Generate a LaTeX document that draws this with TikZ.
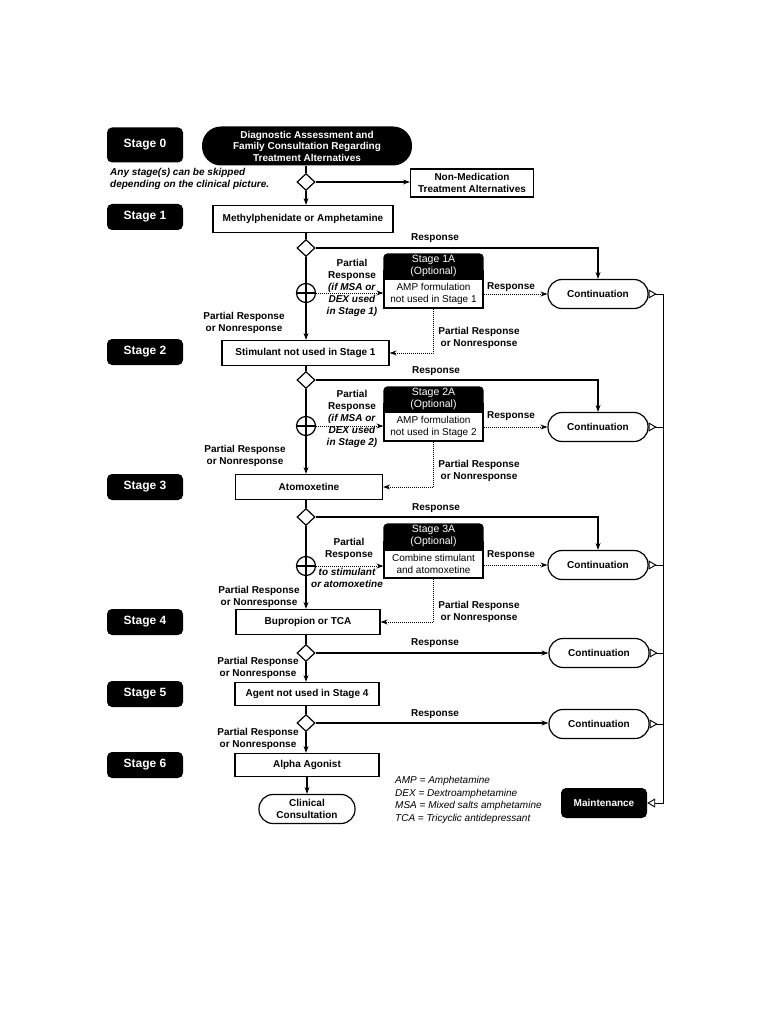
\documentclass[tikz,border=0pt]{standalone}
\usepackage{fontspec}
\setmainfont{Liberation Sans}
\usetikzlibrary{arrows.meta,shapes.geometric,calc}
\begin{document}
\begin{tikzpicture}[x=1pt,y=-1pt,
  every node/.style={font=\fontsize{10}{12}\selectfont\bfseries, inner sep=0pt, align=center},
  stagebox/.style={fill=black, text=white, rounded corners=5pt, minimum width=76pt, minimum height=26pt, font=\fontsize{12}{14}\selectfont\bfseries},
  procbox/.style={draw, line width=1.2pt, fill=white, minimum height=25pt},
  termbox/.style={draw, line width=1.2pt, fill=white, rounded corners=14pt, minimum width=100pt, minimum height=29pt},
  optbody/.style={draw, line width=1.2pt, fill=white, minimum width=99pt, minimum height=29pt, font=\fontsize{10}{12}\selectfont\mdseries},
  opthead/.style={text=white, font=\fontsize{10.5}{12}\selectfont\mdseries},
  headfill/.style={fill=black},
  decision/.style={diamond, draw, line width=1.2pt, fill=white, minimum width=18pt, minimum height=17pt},
  optcircle/.style={circle, draw, line width=1.2pt, minimum size=19pt},
  lbl/.style={font=\fontsize{10}{12}\selectfont\bfseries},
  lblit/.style={font=\fontsize{10}{12}\selectfont\bfseries\itshape},
  legendtext/.style={font=\fontsize{10}{12.7}\selectfont\mdseries\itshape, align=left},
  flow/.style={line width=1.2pt, -{Stealth[length=7pt,width=5pt]}},
  solidline/.style={line width=1.2pt},
  dflow/.style={line width=1pt, densely dotted, -{Stealth[length=7pt,width=5pt]}},
  contout/.style={line width=0.9pt, {Triangle[open,reversed,length=8pt,width=9pt]}-},
  maintin/.style={line width=0.9pt, -{Triangle[open,length=8pt,width=9pt]}},
]
\useasboundingbox (0,0) rectangle (768,1024);

% stage labels
\node[stagebox, minimum height=35pt] (s0) at (145,145) {Stage 0};
\node[stagebox] (s1) at (145,217) {Stage 1};
\node[stagebox] (s2) at (145,352) {Stage 2};
\node[stagebox] (s3) at (145,487) {Stage 3};
\node[stagebox] (s4) at (145,622) {Stage 4};
\node[stagebox] (s5) at (145,694) {Stage 5};
\node[stagebox] (s6) at (145,765) {Stage 6};

% top terminal
\node[rectangle, fill=black, rounded corners=19pt, minimum width=210pt, minimum height=39pt] (e0) at (307,146) {};
\node[text=white, font=\fontsize{10}{11.5}\selectfont\bfseries] (e0t) at (e0.center) {Diagnostic Assessment and\\Family Consultation Regarding\\Treatment Alternatives};

\node[lblit, align=left, anchor=west] (skip) at (110,179) {Any stage(s) can be skipped\\depending on the clinical picture.};

% decisions
\node[decision] (d0) at (306,182) {};
\node[decision] (d1) at (306,248) {};
\node[decision] (d2) at (306,380) {};
\node[decision] (d3) at (306,517) {};
\node[decision] (d4) at (306,653) {};
\node[decision] (d5) at (306,723) {};

% process boxes
\node[procbox, minimum width=123pt, minimum height=28pt] (nm) at (472,183) {Non-Medication\\Treatment Alternatives};
\node[procbox, minimum width=180pt, minimum height=27pt] (b1) at (303,219) {Methylphenidate or Amphetamine};
\node[procbox, minimum width=167pt] (b2) at (305.5,353) {Stimulant not used in Stage 1};
\node[procbox, minimum width=147pt] (b3) at (309,487) {Atomoxetine};
\node[procbox, minimum width=144pt] (b4) at (308,622) {Bupropion or TCA};
\node[procbox, minimum width=144pt, minimum height=23pt] (b5) at (307,694) {Agent not used in Stage 4};
\node[procbox, minimum width=144pt, minimum height=23pt] (b6) at (307,765) {Alpha Agonist};
\node[termbox, minimum width=96pt] (cc) at (307,809) {Clinical\\Consultation};

% optional-stage boxes
\node[optbody] (a1) at (433.5,293.5) {AMP formulation\\not used in Stage 1};
\fill[headfill, rounded corners=4pt] ([yshift=25pt]a1.north west) rectangle (a1.north east);
\fill[headfill] ([yshift=8pt]a1.north west) rectangle (a1.north east);
\node[opthead] (h1) at ([yshift=12.5pt]a1.north) {Stage 1A\\(Optional)};

\node[optbody] (a2) at (433.5,426.5) {AMP formulation\\not used in Stage 2};
\fill[headfill, rounded corners=4pt] ([yshift=25pt]a2.north west) rectangle (a2.north east);
\fill[headfill] ([yshift=8pt]a2.north west) rectangle (a2.north east);
\node[opthead] (h2) at ([yshift=12.5pt]a2.north) {Stage 2A\\(Optional)};

\node[optbody, minimum height=28pt] (a3) at (433.5,564) {Combine stimulant\\and atomoxetine};
\fill[headfill, rounded corners=4pt] ([yshift=26pt]a3.north west) rectangle (a3.north east);
\fill[headfill] ([yshift=8pt]a3.north west) rectangle (a3.north east);
\node[opthead] (h3) at ([yshift=13pt]a3.north) {Stage 3A\\(Optional)};

% optional circles
\node[optcircle] (c1) at (306,293) {};
\node[optcircle] (c2) at (306,426) {};
\node[optcircle] (c3) at (306,566) {};

% continuation / maintenance
\node[termbox] (k1) at (598,294) {Continuation};
\node[termbox] (k2) at (598,427) {Continuation};
\node[termbox] (k3) at (598,565) {Continuation};
\node[termbox] (k4) at (599,653) {Continuation};
\node[termbox] (k5) at (599,724) {Continuation};
\node[fill=black, text=white, rounded corners=5pt, minimum width=86pt, minimum height=30pt] (mt) at (604,803) {Maintenance};

% main flow
\draw[solidline] (e0.south -| d0) -- (d0.north);
\draw[flow] (d0.east) -- (d0.east -| nm.west);
\draw[flow] (d0.south) -- (d0.south |- b1.north);
\draw[solidline] (d1 |- b1.south) -- (d1.north);
\draw[flow] (d1.south) -- (d1.south |- b2.north);
\draw[solidline] (d2 |- b2.south) -- (d2.north);
\draw[flow] (d2.south) -- (d2.south |- b3.north);
\draw[solidline] (d3 |- b3.south) -- (d3.north);
\draw[flow] (d3.south) -- (d3.south |- b4.north);
\draw[solidline] (d4 |- b4.south) -- (d4.north);
\draw[flow] (d4.south) -- (d4.south |- b5.north);
\draw[solidline] (d5 |- b5.south) -- (d5.north);
\draw[flow] (d5.south) -- (d5.south |- b6.north);
\draw[flow] (cc.north |- b6.south) -- (cc.north);

% circle plus bars
\draw[solidline] (c1.west) -- (c1.east);
\draw[solidline] (c2.west) -- (c2.east);
\draw[solidline] (c3.west) -- (c3.east);

% response lines
\draw[flow] (d1.east) -| (k1.north);
\draw[flow] (d2.east) -| (k2.north);
\draw[flow] (d3.east) -| (k3.north);
\draw[flow] (d4.east) -- (d4.east -| k4.west);
\draw[flow] (d5.east) -- (d5.east -| k5.west);

% optional dotted paths
\draw[dflow] (c1.east) -- (c1.east -| a1.west);
\draw[dflow] (a1.east |- k1) -- (k1.west);
\draw[dflow] (a1.south) |- (b2.east);
\draw[dflow] (c2.east) -- (c2.east -| a2.west);
\draw[dflow] (a2.east |- k2) -- (k2.west);
\draw[dflow] (a2.south) |- (b3.east);
\draw[dflow] (c3.east) -- (c3.east -| a3.west);
\draw[dflow] (a3.east |- k3) -- (k3.west);
\draw[dflow] (a3.south) |- (b4.east);

% to maintenance
\coordinate (rt) at (663,294);
\coordinate (rb) at (663,803);
\draw[contout] (k1.east) -- (k1.east -| rt);
\draw[contout] (k2.east) -- (k2.east -| rt);
\draw[contout] (k3.east) -- (k3.east -| rt);
\draw[contout] (k4.east) -- (k4.east -| rt);
\draw[contout] (k5.east) -- (k5.east -| rt);
\draw[maintin] (rt) -- (rb) -- (mt.east);

% labels
\node[lbl] (r1) at (435,238) {Response};
\node[lbl] (r2) at (436,371) {Response};
\node[lbl] (r3) at (436,508) {Response};
\node[lbl] (r4) at (435,643) {Response};
\node[lbl] (r5) at (435,714) {Response};
\node[lbl] (q1) at (511,287) {Response};
\node[lbl] (q2) at (511,416) {Response};
\node[lbl] (q3) at (511,555) {Response};

\node[lbl] (p1) at (352,288) {Partial\\Response\\\textit{(if MSA or}\\\textit{DEX used}\\\textit{in Stage 1)}};
\node[lbl] (p2) at (352,419) {Partial\\Response\\\textit{(if MSA or}\\\textit{DEX used}\\\textit{in Stage 2)}};
\node[lbl] (p3) at (349,548.5) {Partial\\Response};
\node[lblit] (p3b) at (347,578) {to stimulant\\or atomoxetine};

\node[lbl] (l1) at (244,323) {Partial Response\\or Nonresponse};
\node[lbl] (l2) at (245,456) {Partial Response\\or Nonresponse};
\node[lbl] (l3) at (259,597) {Partial Response\\or Nonresponse};
\node[lbl] (l4) at (258,668) {Partial Response\\or Nonresponse};
\node[lbl] (l5) at (258,739) {Partial Response\\or Nonresponse};

\node[lbl] (m1) at (479,338) {Partial Response\\or Nonresponse};
\node[lbl] (m2) at (479,470.5) {Partial Response\\or Nonresponse};
\node[lbl] (m3) at (479,612) {Partial Response\\or Nonresponse};

\node[legendtext, anchor=west] (lg) at (395,800) {AMP = Amphetamine\\DEX = Dextroamphetamine\\MSA = Mixed salts amphetamine\\TCA = Tricyclic antidepressant};
\end{tikzpicture}
\end{document}
